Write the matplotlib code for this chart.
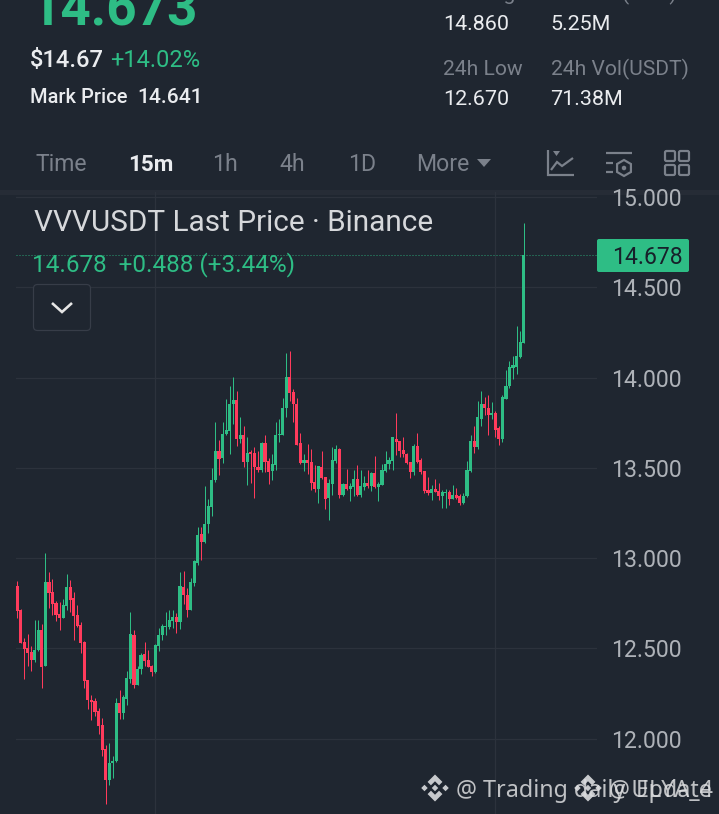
import matplotlib
matplotlib.use("Agg")
import matplotlib.pyplot as plt
from matplotlib.patches import FancyBboxPatch, Polygon, Rectangle, RegularPolygon

opens = [12.846, 12.713, 12.535, 12.502, 12.480, 12.435, 12.491, 12.602, 12.402, 12.869,
         12.813, 12.752, 12.691, 12.668, 12.735, 12.841, 12.780, 12.685, 12.630, 12.535,
         12.324, 12.213, 12.207, 12.152, 12.074, 11.941, 11.774, 11.863, 11.874, 12.196,
         12.141, 12.219, 12.330, 12.574, 12.296, 12.385, 12.469, 12.435, 12.402, 12.369,
         12.513, 12.574, 12.619, 12.619, 12.652, 12.674, 12.646, 12.841, 12.796, 12.713,
         12.863, 12.974, 13.135, 13.091, 13.191, 13.285, 13.435, 13.596, 13.557, 13.691,
         13.707, 13.852, 13.874, 13.663, 13.685, 13.535, 13.591, 13.585, 13.507, 13.491,
         13.641, 13.541, 13.485, 13.519, 13.685, 13.685, 13.830, 14.002, 13.919, 13.852,
         13.641, 13.530, 13.546, 13.535, 13.424, 13.385, 13.507, 13.452, 13.335, 13.413,
         13.541, 13.607, 13.352, 13.413, 13.385, 13.396, 13.441, 13.352, 13.396, 13.419,
         13.402, 13.474, 13.396, 13.407, 13.485, 13.524, 13.541, 13.663, 13.652, 13.602,
         13.580, 13.535, 13.480, 13.624, 13.546, 13.485, 13.380, 13.363, 13.385, 13.374,
         13.346, 13.363, 13.369, 13.330, 13.352, 13.346, 13.307, 13.346, 13.485, 13.652,
         13.619, 13.774, 13.852, 13.835, 13.796, 13.802, 13.719, 13.663, 13.880, 13.952,
         14.052, 14.057, 14.113, 14.191]
closes = [12.707, 12.530, 12.496, 12.474, 12.435, 12.491, 12.602, 12.396, 12.869, 12.807,
          12.746, 12.685, 12.668, 12.741, 12.841, 12.769, 12.680, 12.624, 12.530, 12.319,
          12.213, 12.202, 12.146, 12.069, 11.935, 11.774, 11.863, 11.874, 12.196, 12.141,
          12.230, 12.335, 12.580, 12.296, 12.385, 12.463, 12.430, 12.396, 12.369, 12.519,
          12.574, 12.624, 12.624, 12.657, 12.674, 12.646, 12.846, 12.796, 12.713, 12.869,
          12.985, 13.130, 13.091, 13.191, 13.291, 13.435, 13.596, 13.552, 13.691, 13.713,
          13.857, 13.874, 13.663, 13.685, 13.535, 13.585, 13.580, 13.507, 13.491, 13.641,
          13.535, 13.480, 13.524, 13.685, 13.691, 13.835, 14.002, 13.913, 13.852, 13.630,
          13.530, 13.546, 13.530, 13.419, 13.385, 13.513, 13.446, 13.330, 13.419, 13.546,
          13.607, 13.352, 13.413, 13.385, 13.402, 13.441, 13.352, 13.402, 13.419, 13.402,
          13.474, 13.396, 13.413, 13.491, 13.524, 13.546, 13.669, 13.646, 13.596, 13.580,
          13.530, 13.480, 13.624, 13.535, 13.480, 13.374, 13.363, 13.385, 13.369, 13.346,
          13.369, 13.369, 13.330, 13.352, 13.335, 13.307, 13.346, 13.491, 13.652, 13.619,
          13.780, 13.852, 13.830, 13.796, 13.802, 13.713, 13.663, 13.891, 13.952, 14.057,
          14.069, 14.118, 14.196, 14.678]
highs = [12.874, 12.719, 12.557, 12.580, 12.513, 12.657, 12.657, 12.635, 13.030, 12.924,
         12.885, 12.763, 12.757, 12.774, 12.913, 12.880, 12.813, 12.741, 12.646, 12.541,
         12.324, 12.241, 12.224, 12.169, 12.113, 11.963, 11.974, 11.907, 12.224, 12.269,
         12.241, 12.374, 12.702, 12.602, 12.402, 12.474, 12.535, 12.491, 12.407, 12.524,
         12.613, 12.635, 12.702, 12.713, 12.713, 12.696, 12.924, 12.930, 12.835, 12.891,
         12.991, 13.174, 13.174, 13.402, 13.330, 13.502, 13.757, 13.657, 13.752, 13.880,
         13.952, 14.002, 13.924, 13.785, 13.735, 13.674, 13.602, 13.619, 13.596, 13.646,
         13.680, 13.557, 13.580, 13.757, 13.769, 13.885, 14.135, 14.146, 13.935, 13.885,
         13.696, 13.580, 13.635, 13.607, 13.519, 13.513, 13.596, 13.452, 13.441, 13.619,
         13.630, 13.613, 13.419, 13.496, 13.419, 13.491, 13.519, 13.491, 13.457, 13.491,
         13.480, 13.569, 13.424, 13.524, 13.596, 13.563, 13.674, 13.802, 13.652, 13.674,
         13.585, 13.535, 13.635, 13.696, 13.557, 13.485, 13.452, 13.407, 13.441, 13.419,
         13.380, 13.385, 13.380, 13.407, 13.391, 13.357, 13.363, 13.541, 13.680, 13.730,
         13.869, 13.924, 13.896, 13.907, 13.863, 13.813, 13.730, 13.906, 14.041, 14.091,
         14.118, 14.285, 14.257, 14.860]
lows = [12.668, 12.530, 12.330, 12.402, 12.374, 12.424, 12.485, 12.280, 12.402, 12.724,
        12.685, 12.652, 12.602, 12.668, 12.713, 12.702, 12.546, 12.619, 12.474, 12.280,
        12.163, 12.102, 12.124, 12.024, 11.907, 11.641, 11.741, 11.785, 11.869, 12.107,
        12.107, 12.185, 12.307, 12.280, 12.296, 12.357, 12.402, 12.396, 12.346, 12.363,
        12.485, 12.546, 12.574, 12.607, 12.613, 12.585, 12.607, 12.746, 12.674, 12.713,
        12.846, 12.963, 12.991, 13.085, 13.141, 13.235, 13.424, 13.463, 13.530, 13.680,
        13.580, 13.746, 13.624, 13.641, 13.507, 13.407, 13.419, 13.335, 13.480, 13.480,
        13.480, 13.413, 13.435, 13.491, 13.646, 13.685, 13.785, 13.869, 13.757, 13.630,
        13.524, 13.485, 13.469, 13.380, 13.369, 13.307, 13.441, 13.274, 13.213, 13.352,
        13.530, 13.335, 13.346, 13.380, 13.319, 13.346, 13.346, 13.341, 13.380, 13.391,
        13.374, 13.391, 13.319, 13.407, 13.480, 13.496, 13.491, 13.574, 13.563, 13.563,
        13.524, 13.446, 13.463, 13.530, 13.469, 13.363, 13.352, 13.324, 13.369, 13.324,
        13.280, 13.280, 13.296, 13.330, 13.330, 13.296, 13.302, 13.341, 13.480, 13.585,
        13.607, 13.735, 13.791, 13.680, 13.769, 13.669, 13.630, 13.646, 13.880, 13.941,
        13.991, 14.019, 14.107, 14.191]

price_ticks = [12.0, 12.5, 13.0, 13.5, 14.0, 14.5, 15.0]
time_grid = [39, 135]        # candles que caem nas linhas verticais
tabs = ["Time", "15m", "1h", "4h", "1D", "More"]

# ---------- cores ----------
BG = "#1f2630"
GREEN = "#2ebd85"
RED = "#ff3b5c"
GRID = "#2c323c"
GREY = "#7b818b"
WHITE = "#eaecef"
W, H = 719, 814

plt.rcParams["font.family"] = ["Roboto", "DejaVu Sans"]


def px(size):
    # tamanho em pixels da tela -> pontos (dpi 100)
    return size * 0.72


fig = plt.figure(figsize=(W / 100, H / 100), dpi=100, facecolor=BG)

# faixa separadora, atras de tudo
fig.add_artist(Rectangle((0, 1 - 194.5 / H), 1, 4 / H, transform=fig.transFigure,
                         color="#262c36", linewidth=0, zorder=-1))

# ---------- grafico ----------
ax = fig.add_axes([16 / W, 0, (597 - 16) / W, (H - 192) / H], facecolor="none")
ax.set_xlim(-0.3, 163.7)
ax.set_ylim(11.583, 15.029)

x = list(range(len(opens)))
colors = [GREEN if c >= o else RED for o, c in zip(opens, closes)]
ax.vlines(x, lows, highs, colors=colors, linewidth=px(1.0), zorder=3)
ax.bar(x, [abs(c - o) for o, c in zip(opens, closes)], bottom=[min(o, c) for o, c in zip(opens, closes)],
       width=0.88, color=colors, linewidth=0, zorder=3)
ax.axhline(closes[-1], color=GREEN, linewidth=px(1), linestyle=(0, (1, 2)), zorder=4, alpha=0.8)

ax.set_yticks(price_ticks)
ax.set_yticklabels([f"{p:.3f}" for p in price_ticks])
ax.set_xticks(time_grid)
ax.set_xticklabels([])
ax.yaxis.tick_right()
ax.tick_params(axis="y", length=0, pad=px(14), labelsize=px(23), labelcolor="#aeb2b8")
ax.tick_params(axis="x", length=0)
ax.grid(True, color=GRID, linewidth=px(1.2), zorder=0)
for s in ax.spines.values():
    s.set_visible(False)

# ---------- textos e icones em pixels da tela ----------
ui = fig.add_axes([0, 0, 1, 1], facecolor="none")
ui.set_xlim(0, W)
ui.set_ylim(H, 0)
ui.axis("off")


def label(xp, yp, s, size, color=WHITE, **kw):
    ui.text(xp, yp, s, fontsize=px(size), color=color, va="baseline", **kw)


def stroke(pts, color=GREY, lw=2.2):
    ui.plot([p[0] for p in pts], [p[1] for p in pts], color=color, linewidth=px(lw),
            solid_capstyle="butt", solid_joinstyle="miter")


# cabecalho
label(31, 25, "14.673", 53, GREEN, fontweight="bold")
label(30, 67, "$14.67", 23.7, WHITE, fontweight="medium")
label(110, 67, "+14.02%", 23.6, GREEN)
label(30, 103, "Mark Price", 20, WHITE, fontweight="medium")
label(137, 103, "14.641", 21, WHITE, fontweight="medium")

label(443, 0, "24h High", 21, GREY)
label(551, 0, "24h Vol(VVV)", 21, GREY)
label(443, 30, "14.860", 21.5, WHITE)
label(550, 30, "5.25M", 21.5, WHITE)
label(443, 75, "24h Low", 21, GREY)
label(551, 75, "24h Vol(USDT)", 21, GREY)
label(443, 105, "12.670", 21.5, WHITE)
label(550, 105, "71.38M", 21.5, WHITE)

# abas
tab_x = [36, 128, 212, 279, 348, 416]
for t, xp in zip(tabs, tab_x):
    if t == "15m":
        label(xp, 171, t, 22.5, WHITE, fontweight="bold")
    else:
        label(xp, 171, t, 23, GREY)
ui.add_patch(Polygon([(477, 159), (491, 159), (484, 167)], color=GREY, linewidth=0))

# icone 1
stroke([(548, 150), (548, 175), (574, 175)])
stroke([(551, 170), (557, 162), (562, 166), (573, 158)])
ui.add_patch(Polygon([(553, 151), (560, 151), (556.5, 156)], color=GREY, linewidth=0))
# icone 2
stroke([(606, 153), (632, 153)])
stroke([(606, 163), (613, 163)])
stroke([(606, 172), (613, 172)])
ui.add_patch(RegularPolygon((624, 168), 6, radius=8, facecolor="none", edgecolor=GREY, linewidth=px(2.2)))
ui.add_patch(RegularPolygon((624, 168), 6, radius=2.5, color=GREY, linewidth=0))
# icone 3
for xp in (665, 679):
    for yp in (151, 165):
        ui.add_patch(FancyBboxPatch((xp, yp), 10, 10, boxstyle="round,pad=0,rounding_size=1.5",
                                    facecolor="none", edgecolor=GREY, linewidth=px(2.2)))

# legenda do grafico
label(34, 231, "VVVUSDT Last Price · Binance", 29.8, "#d6d8db")
label(32.5, 271, "14.678  +0.488 (+3.44%)", 24.2, GREEN)
ui.add_patch(FancyBboxPatch((33.5, 284.5), 57, 46, boxstyle="round,pad=0,rounding_size=4",
                            facecolor=BG, edgecolor="#373d48", linewidth=px(1.2)))
stroke([(52, 303), (62, 312), (72, 303)], "#e6e6e6", 2.6)

# etiqueta do ultimo preco
ui.add_patch(FancyBboxPatch((597, 239), 92, 33, boxstyle="round,pad=0,rounding_size=2",
                            facecolor=GREEN, edgecolor="none"))
label(612, 264, f"{closes[-1]:.3f}", 23, "#17202a")


# ---------- marca d'agua ----------
def binance_logo(cx, cy, r=13.5, alpha=0.85):
    c = "#e6e7e9"
    d = r * 0.24
    for dx, dy in [(0, 0), (-r * 0.78, 0), (r * 0.78, 0)]:
        ui.add_patch(Polygon([(cx + dx, cy + dy - d), (cx + dx + d, cy + dy), (cx + dx, cy + dy + d),
                              (cx + dx - d, cy + dy)], color=c, alpha=alpha, linewidth=0))
    for sgn in (-1, 1):
        ui.add_patch(Polygon([(cx, cy + sgn * r), (cx + r * 0.55, cy + sgn * r * 0.45),
                              (cx + r * 0.3, cy + sgn * r * 0.2), (cx, cy + sgn * r * 0.5),
                              (cx - r * 0.3, cy + sgn * r * 0.2), (cx - r * 0.55, cy + sgn * r * 0.45)],
                             color=c, alpha=alpha, linewidth=0))


binance_logo(435, 788)
binance_logo(588, 788)
label(456, 797, "@ Trading daily Update", 23.3, "#dcdddf", family=["Noto Sans", "DejaVu Sans"], alpha=0.85)
label(609, 797, "@ ELYA_4", 23.3, "#dcdddf", family=["Noto Sans", "DejaVu Sans"], alpha=0.85)

fig.savefig("out.png", dpi=100, facecolor=BG)
